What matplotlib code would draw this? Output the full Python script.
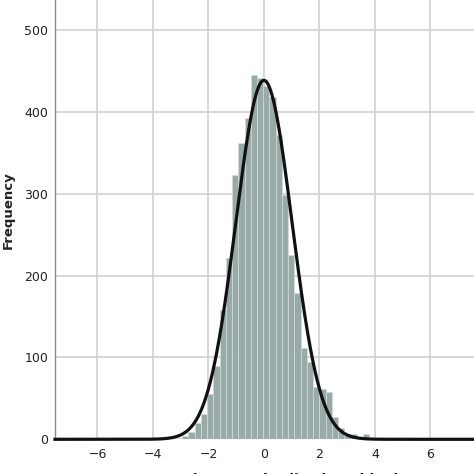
import numpy as np
import matplotlib
matplotlib.use('Agg')
import matplotlib.pyplot as plt

# histogram bins (left edges) and counts
bin_width = 0.225
first_edge = -3.4
counts = [1, 2, 4, 9, 20, 31, 55, 89, 158, 222, 323, 362, 392, 445, 441,
          432, 418, 372, 299, 225, 179, 111, 95, 64, 61, 58, 27, 14, 6, 7,
          3, 7, 1]

# normal curve parameters (standardized residuals)
curve_mean = 0.0
curve_sd = 1.01

x_ticks = [-6, -4, -2, 0, 2, 4, 6]
y_ticks = [0, 100, 200, 300, 400, 500]

edges = first_edge + bin_width * np.arange(len(counts) + 1)
n_total = sum(counts)

fig = plt.figure(figsize=(4.74, 4.74), dpi=100)
ax = fig.add_axes([55 / 474, 1 - 439.3 / 474, 1 - 55 / 474, 439.3 / 474])

ax.set_axisbelow(True)
ax.grid(True, color='#cdcdcd', linewidth=1.1)

ax.bar(edges[:-1], counts, width=bin_width, align='edge',
       color='#98aba8', edgecolor='#d4dcda', linewidth=0.5, zorder=2)

xmin, xmax = -7.53, 7.57
xs = np.linspace(xmin, xmax, 600)
ys = n_total * bin_width / (curve_sd * np.sqrt(2 * np.pi)) * \
    np.exp(-0.5 * ((xs - curve_mean) / curve_sd) ** 2)
ax.plot(xs, ys, color='#111111', linewidth=2.3, zorder=3, clip_on=False)

ax.set_xlim(xmin, xmax)
ax.set_ylim(0, 536.6)
ax.set_xticks(x_ticks)
ax.set_yticks(y_ticks)
ax.tick_params(length=0, labelsize=9, colors='#222222')
ax.tick_params(axis='x', pad=6)
ax.tick_params(axis='y', pad=5)

for s in ['top', 'right', 'bottom']:
    ax.spines[s].set_visible(False)
ax.spines['left'].set_color('#8a8a8a')
ax.spines['left'].set_linewidth(1.0)

fig.text(8.5 / 474, 1 - 210 / 474, 'Frequency', rotation=90, fontsize=9.5,
         fontweight='bold', ha='center', va='center', color='#222222')
# the x label sits at the bottom edge and is mostly cut off, as in the source
fig.text(264 / 474, 1 - 473 / 474, 'Regression Standardized Residual',
         fontsize=10, fontweight='bold', ha='center', va='top', color='#222222')

fig.savefig('out.png', dpi=100)
